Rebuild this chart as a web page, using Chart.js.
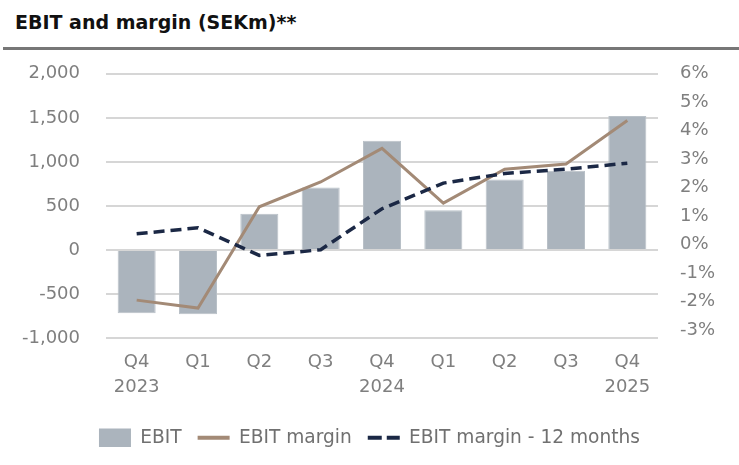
<!DOCTYPE html>
<html>
<head>
<meta charset="utf-8">
<script src="https://cdn.jsdelivr.net/npm/chart.js@4.4.1/dist/chart.umd.min.js"></script>
<style>
  html, body { margin: 0; padding: 0; background: #fff; }
  body { width: 739px; height: 465px; position: relative; overflow: hidden; font-family: "DejaVu Sans", sans-serif; }
  .title { position: absolute; left: 15px; top: 13px; font-size: 19px; line-height: 1; font-weight: 700; color: #111; z-index: 2; }
  .rule { position: absolute; left: 3px; right: 0; top: 47px; height: 3px; background: #777; z-index: 2; }
  .wrap { position: absolute; left: 0; top: 37px; width: 739px; height: 428px; z-index: 1; }
</style>
</head>
<body>
<div class="title">EBIT and margin (SEKm)**</div>
<div class="rule"></div>
<div class="wrap"><canvas id="chart"></canvas></div>
<script>
// values
const categories = [["Q4", "2023"], "Q1", "Q2", "Q3", ["Q4", "2024"], "Q1", "Q2", "Q3", ["Q4", "2025"]]
const ebit = [-720, -730, 410, 710, 1240, 450, 800, 900, 1520]
const ebitMargin = [-1.95, -2.23, 1.33, 2.2, 3.38, 1.46, 2.65, 2.83, 4.36]
const ebitMargin12m = [0.38, 0.59, -0.38, -0.18, 1.26, 2.16, 2.5, 2.65, 2.86]
const leftTicks = [-1000, -500, 0, 500, 1000, 1500, 2000]
const rightTicks = [-3, -2, -1, 0, 1, 2, 3, 4, 5, 6]

const tickColor = "#7f7f7f"
const tickFont = { family: "'DejaVu Sans', sans-serif", size: 18 }

new Chart(document.getElementById("chart").getContext("2d"), {
  data: {
    labels: categories,
    datasets: [
      {
        type: "bar",
        label: "EBIT",
        data: ebit,
        yAxisID: "y",
        backgroundColor: "#abb4bd",
        borderColor: "#b9c1c8",
        borderWidth: 1,
        categoryPercentage: 0.62,
        barPercentage: 1,
        order: 2
      },
      {
        type: "line",
        label: "EBIT margin",
        data: ebitMargin,
        yAxisID: "y1",
        borderColor: "#a38a76",
        backgroundColor: "#a38a76",
        borderWidth: 3,
        pointRadius: 0,
        tension: 0,
        order: 1
      },
      {
        type: "line",
        label: "EBIT margin - 12 months",
        data: ebitMargin12m,
        yAxisID: "y1",
        borderColor: "#1b2845",
        backgroundColor: "#1b2845",
        borderWidth: 3.5,
        borderDash: [11, 6],
        pointRadius: 0,
        tension: 0,
        order: 0
      }
    ]
  },
  options: {
    responsive: true,
    maintainAspectRatio: false,
    animation: false,
    layout: { padding: { top: 0, bottom: 8, left: 0, right: 0 } },
    plugins: {
      tooltip: { enabled: false },
      legend: {
        position: "bottom",
        labels: {
          color: "#707070",
          font: { family: "'DejaVu Sans', sans-serif", size: 18.6 },
          usePointStyle: true,
          pointStyleWidth: 32,
          padding: 16,
          sort: (a, b) => a.datasetIndex - b.datasetIndex,
          generateLabels: (chart) =>
            chart.data.datasets.map((ds, i) => ({
              text: ds.label,
              datasetIndex: i,
              fillStyle: ds.backgroundColor,
              strokeStyle: ds.type === "bar" ? ds.backgroundColor : ds.borderColor,
              lineWidth: ds.type === "bar" ? 0 : 4,
              lineDash: ds.borderDash ? [14, 5] : [],
              pointStyle: ds.type === "bar" ? "rect" : "line",
              fontColor: "#707070"
            }))
        }
      }
    },
    scales: {
      x: {
        grid: { display: false, drawTicks: false },
        border: { display: false },
        ticks: { color: tickColor, font: { ...tickFont, lineHeight: 1.4 }, padding: 12, maxRotation: 0, autoSkip: false }
      },
      y: {
        position: "left",
        min: -1000,
        max: 2000,
        afterBuildTicks: (s) => { s.ticks = leftTicks.map((v) => ({ value: v })) },
        afterFit: (s) => { s.width = 106 },
        grid: { color: "#d6d6d6", lineWidth: 2, drawTicks: false },
        border: { display: false },
        ticks: {
          color: tickColor,
          font: tickFont,
          padding: 26,
          callback: (v) => v.toLocaleString("en-US")
        }
      },
      y1: {
        position: "right",
        min: -3.28,
        max: 6,
        afterBuildTicks: (s) => { s.ticks = rightTicks.map((v) => ({ value: v })) },
        afterFit: (s) => { s.width = 81 },
        grid: { display: false, drawTicks: false },
        border: { display: false },
        ticks: {
          color: tickColor,
          font: tickFont,
          padding: 22,
          callback: (v) => v + "%"
        }
      }
    }
  }
})
</script>
</body>
</html>
